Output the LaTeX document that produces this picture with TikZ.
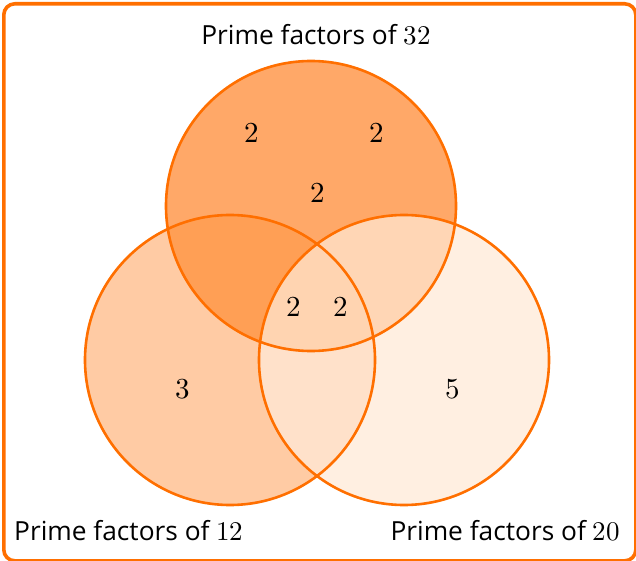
\documentclass[tikz,border=0pt]{standalone}
\usepackage{fontspec}
\setmainfont{Open Sans}
\usepackage{unicode-math}
\setmathfont{Latin Modern Math}
\definecolor{edge}{HTML}{FF6F00}
\definecolor{cT}{HTML}{FFA868}
\definecolor{cL}{HTML}{FFCBA4}
\definecolor{cR}{HTML}{FFEFE1}
\definecolor{cTL}{HTML}{FF9F55}
\definecolor{cTR}{HTML}{FFD6B5}
\definecolor{cLR}{HTML}{FFE1CA}
\definecolor{cC}{HTML}{FFD4B1}
\begin{document}
\begin{tikzpicture}[x=1pt,y=-1pt,
  ring/.style={draw=edge,line width=2.6pt},
  lab/.style={font=\fontsize{26.3}{30}\selectfont,inner sep=0pt},
  num/.style={font=\fontsize{29}{32}\selectfont,inner sep=0pt}]
\useasboundingbox (0,0) rectangle (636,561);
\coordinate (T) at (311,206);
\coordinate (L) at (230,360);
\coordinate (R) at (404,360);
\def\rr{145}
\fill[cL] (L) circle (\rr);
\fill[cR] (R) circle (\rr);
\fill[cT] (T) circle (\rr);
\begin{scope}\clip (L) circle (\rr); \fill[cTL] (T) circle (\rr);\end{scope}
\begin{scope}\clip (T) circle (\rr); \fill[cTR] (R) circle (\rr);\end{scope}
\begin{scope}\clip (L) circle (\rr); \fill[cLR] (R) circle (\rr);\end{scope}
\begin{scope}\clip (L) circle (\rr); \clip (T) circle (\rr); \fill[cC] (R) circle (\rr);\end{scope}
\draw[ring] (T) circle (\rr);
\draw[ring] (L) circle (\rr);
\draw[ring] (R) circle (\rr);
\node[draw=edge,line width=3.6pt,rounded corners=11pt,minimum width=632pt,minimum height=557pt,anchor=north west] (frame) at (2,2) {};
\node[lab] (t32) at (316,35) {Prime factors of {\fontsize{27}{30}\selectfont$32$}};
\node[lab,anchor=west] (t12) at (14,531) {Prime factors of {\fontsize{27}{30}\selectfont$12$}};
\node[lab,anchor=east] (t20) at (620,531) {Prime factors of {\fontsize{27}{30}\selectfont$20$}};
\node[num] (a1) at (252,133) {$2$};
\node[num] (a2) at (377,133) {$2$};
\node[num] (a3) at (318,193) {$2$};
\node[num] (b1) at (294,307) {$2$};
\node[num] (b2) at (341,307) {$2$};
\node[num] (c3) at (183,389) {$3$};
\node[num] (c5) at (453,389) {$5$};
\end{tikzpicture}
\end{document}
